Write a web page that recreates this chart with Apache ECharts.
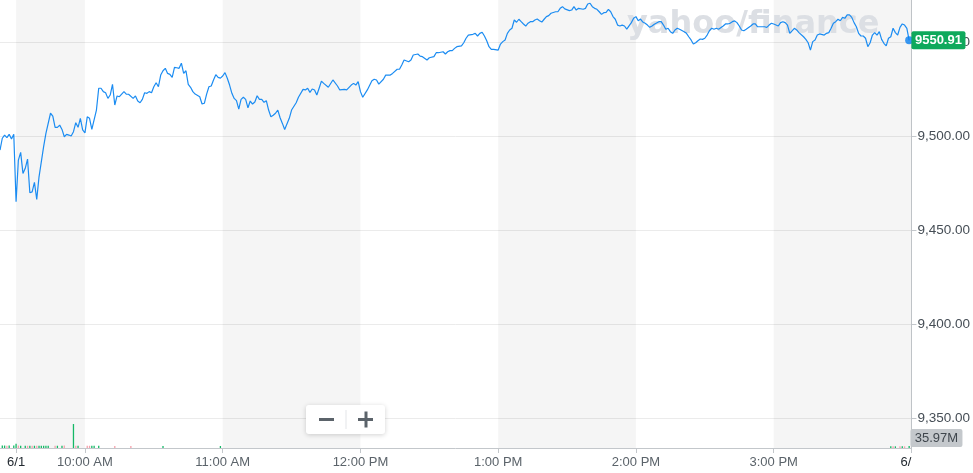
<!DOCTYPE html>
<html><head><meta charset="utf-8">
<script src="https://cdn.jsdelivr.net/npm/echarts@6/dist/echarts.min.js"></script>
<style>html,body{margin:0;padding:0;background:#fff}#c{width:973px;height:473px}</style>
</head><body><div id="c"></div>
<script>
// minutes since midnight (9:30 = 570, 16:00 = 960)
const priceMinutes = [563,564,565,566,567,568,569,570,571,572,573,574,575,576,577,578,579,580,582,583,585,586,587,588,589,590,591,592,593,594,595,596,597,598,599,600,601,602,603,605,606,607,608,609,610,611,612,613,614,615,616,617,618,619,621,622,623,624,625,626,627,628,629,630,631,632,633,634,635,636,637,638,639,640,641,642,643,644,645,646,647,648,650,651,652,653,654,655,656,657,658,659,660,661,662,663,664,665,666,667,668,669,670,671,672,673,674,675,676,677,678,679,680,681,682,683,684,685,686,687,689,690,692,693,695,696,697,698,699,700,701,702,703,704,706,708,710,711,713,714,716,717,718,719,720,721,723,725,726,727,728,730,731,733,734,736,737,738,739,741,742,743,745,746,747,749,750,752,753,754,756,757,758,759,760,761,762,764,765,766,767,769,770,771,772,773,774,775,776,777,778,780,781,782,783,784,785,786,787,788,789,790,791,792,793,794,795,796,797,798,799,800,801,802,803,805,806,807,808,809,811,812,813,814,815,817,818,819,820,821,822,823,824,825,826,827,828,829,830,831,832,833,834,835,836,838,839,840,841,842,843,844,845,846,847,848,850,851,852,853,854,855,856,857,858,859,861,862,863,864,865,866,867,868,869,870,871,872,873,874,875,876,878,879,880,881,882,883,884,885,886,887,888,890,891,892,893,894,896,897,898,899,900,902,903,904,905,906,907,908,909,910,911,913,914,915,916,917,918,919,920,922,923,924,925,926,927,928,929,930,931,932,933,934,935,936,937,938,939,940,941,942,943,944,945,946,947,948,949,950,951,952,953,954,955,956,957,958,959];
const priceValues = [9492.5,9498.8,9500.5,9499.1,9500.9,9498.4,9500.9,9465.0,9487.2,9491.3,9480.1,9482.8,9487.7,9469.8,9470.3,9475.3,9466.3,9478.3,9494.3,9501.4,9512.1,9510.6,9504.6,9504.6,9505.8,9503.5,9499.6,9500.9,9500.5,9500.0,9502.3,9507.1,9504.6,9509.4,9503.2,9501.7,9510.2,9509.4,9503.5,9513.8,9525.4,9525.4,9523.6,9523.0,9520.0,9521.8,9527.5,9516.5,9521.3,9520.9,9522.3,9523.6,9522.3,9522.2,9520.0,9521.3,9518.6,9517.7,9519.5,9523.0,9522.7,9523.6,9523.0,9526.2,9528.3,9526.2,9532.4,9534.7,9536.0,9533.3,9532.8,9531.2,9536.5,9536.3,9536.0,9538.7,9533.3,9534.7,9527.5,9525.9,9523.6,9522.3,9520.9,9517.0,9517.4,9522.3,9526.2,9526.6,9529.8,9532.6,9531.2,9530.8,9531.9,9533.7,9530.7,9527.1,9522.7,9520.0,9518.8,9514.3,9519.5,9520.6,9519.5,9515.0,9518.6,9517.0,9518.1,9521.4,9519.5,9519.5,9517.9,9518.8,9513.8,9510.2,9511.0,9512.1,9513.8,9509.7,9506.7,9503.5,9509.4,9513.8,9517.7,9520.6,9524.8,9524.5,9525.4,9523.2,9525.0,9524.5,9521.8,9525.4,9529.2,9528.0,9525.9,9529.8,9526.6,9524.5,9524.8,9524.5,9527.1,9528.0,9527.1,9528.9,9523.6,9520.6,9524.5,9529.4,9530.2,9529.8,9527.6,9530.2,9532.4,9532.4,9533.3,9535.5,9535.5,9537.8,9540.4,9539.5,9540.4,9543.1,9543.6,9542.5,9542.2,9540.4,9541.6,9542.2,9544.3,9544.3,9544.8,9543.6,9544.8,9545.4,9545.4,9546.6,9547.5,9547.9,9549.6,9552.0,9553.7,9554.1,9554.6,9553.2,9554.6,9555.2,9553.2,9550.7,9547.5,9546.1,9546.1,9545.7,9548.9,9550.2,9551.1,9554.6,9556.4,9557.3,9561.7,9560.5,9562.1,9560.8,9559.6,9558.5,9560.0,9560.8,9560.8,9561.7,9562.2,9561.3,9560.6,9562.1,9563.5,9564.0,9565.3,9566.1,9566.1,9567.9,9568.8,9567.6,9566.7,9567.0,9568.8,9567.0,9567.9,9567.4,9567.9,9570.2,9570.6,9568.8,9567.9,9567.4,9566.1,9564.7,9565.6,9565.8,9567.4,9566.1,9563.5,9562.1,9559.0,9558.5,9559.0,9558.5,9556.8,9560.3,9562.6,9563.5,9561.3,9562.2,9560.6,9560.0,9559.0,9557.8,9558.5,9559.4,9560.8,9560.8,9559.0,9556.8,9557.3,9555.5,9554.6,9556.4,9557.3,9556.8,9555.5,9554.6,9552.8,9551.1,9548.9,9549.6,9550.7,9551.6,9551.4,9552.0,9553.7,9556.0,9557.3,9556.8,9557.3,9556.8,9558.5,9559.6,9559.6,9560.0,9560.8,9561.2,9560.3,9558.5,9556.4,9556.0,9556.8,9558.5,9559.6,9559.6,9558.1,9558.1,9558.1,9557.8,9559.0,9560.0,9559.6,9558.5,9560.3,9560.8,9560.3,9559.0,9554.6,9555.9,9557.3,9556.4,9555.0,9552.8,9551.4,9549.6,9545.7,9550.2,9551.1,9553.7,9554.3,9553.7,9554.6,9555.0,9557.3,9560.0,9560.8,9562.1,9561.3,9563.1,9562.6,9564.4,9564.4,9563.1,9560.3,9558.1,9554.6,9553.2,9553.2,9552.0,9547.5,9549.6,9553.7,9555.0,9553.7,9555.5,9551.4,9549.3,9547.9,9552.0,9552.8,9557.3,9555.0,9553.7,9557.8,9559.6,9559.0,9557.3,9550.91];

const volMinutes = [564,565,566,567,569,570,571,572,574,575,576,577,578,579,580,581,582,583,584,587,588,590,591,595,596,597,601,602,603,604,606,613,620,634,659,951,952,953,955,956,957,959];
const volValues  = [0.22,0.22,0.2,0.22,0.22,0.38,0.22,0.2,0.2,0.2,0.2,0.2,0.2,0.2,0.2,0.2,0.2,0.2,0.2,0.2,0.2,0.2,0.22,2.14,0.2,0.2,0.2,0.2,0.2,0.2,0.2,0.18,0.18,0.18,0.18,0.15,0.15,0.15,0.15,0.15,0.15,0.18];
const volUp      = [1,1,0,1,1,1,0,1,1,0,1,0,1,0,1,1,1,1,1,0,1,1,0,1,0,1,0,0,1,1,1,0,0,1,1,1,0,1,0,1,0,1];

const xTickValues = [570,600,660,720,780,840,900,960];
const xTickLabels = ['6/1','10:00 AM','11:00 AM','12:00 PM','1:00 PM','2:00 PM','3:00 PM','6/'];
const yTickValues = [9350,9400,9450,9500,9550];
const bandRanges = [[570,600],[660,720],[780,840],[900,960]];
const totalVolumeLabel = '35.97M';
const watermarkText = 'yahoo/finance';

const FONT = '"Liberation Sans", Arial, Helvetica, sans-serif';
const chart = echarts.init(document.getElementById('c'), null, {renderer: 'canvas'});

const lastIdx = priceValues.length - 1;
const axisGray = '#c3c7cb';

chart.setOption({
  animation: false,
  backgroundColor: '#fff',
  grid: {left: 0, right: 61, top: 0, bottom: 25, containLabel: false},
  xAxis: {
    type: 'value', min: 563, max: 960,
    axisLine: {show: true, lineStyle: {color: axisGray, width: 1}},
    axisTick: {show: true, customValues: xTickValues, length: 5, lineStyle: {color: axisGray}},
    axisLabel: {
      customValues: xTickValues, margin: 8, fontSize: 13, color: '#5b636a', fontFamily: FONT,
      formatter: function (v) {
        const i = xTickValues.indexOf(v);
        const t = xTickLabels[i];
        if (i === 0) return '{d|' + t + '}';
        if (i === xTickValues.length - 1) return '{e|' + t + '}';
        return t;
      },
      rich: {
        d: {color: '#232a31', fontSize: 13, fontFamily: FONT},
        e: {color: '#232a31', fontSize: 13, fontFamily: FONT, padding: [0, 11, 0, 0]}
      }
    },
    splitLine: {show: false}
  },
  yAxis: [{
    type: 'value', position: 'right', min: 9334.04, max: 9572.34,
    axisLine: {show: true, lineStyle: {color: axisGray, width: 1}},
    axisTick: {show: true, customValues: yTickValues, length: 5, lineStyle: {color: axisGray}},
    axisLabel: {
      customValues: yTickValues, margin: 6, fontSize: 13.5, color: '#464e56', fontFamily: FONT,
      formatter: v => v.toLocaleString('en-US', {minimumFractionDigits: 2, maximumFractionDigits: 2})
    },
    splitLine: {show: true, lineStyle: {color: '#ebebeb', width: 1}}
  }, {
    type: 'value', min: 0, max: 40, show: false, splitLine: {show: false}
  }],
  series: [{
    type: 'line', data: [], z: 1, silent: true,
    markArea: {
      silent: true,
      itemStyle: {color: 'rgba(0,0,0,0.04)'},
      data: bandRanges.map(r => [{xAxis: r[0]}, {xAxis: r[1]}])
    }
  }, {
    type: 'bar', xAxisIndex: 0, yAxisIndex: 1, barWidth: 1.3, z: 4, silent: true,
    data: volMinutes.map((m, i) => ({
      value: [m, volValues[i]],
      itemStyle: {color: volUp[i] ? '#14b866' : '#f5a0ab', borderWidth: 0}
    }))
  }, {
    type: 'line', z: 5, showSymbol: false, silent: true,
    lineStyle: {color: '#1b8cf2', width: 1.2},
    data: priceMinutes.map((m, i) => [m, priceValues[i]])
  }, {
    type: 'scatter', z: 6, symbolSize: 8, silent: true,
    itemStyle: {color: '#0a7ff0'},
    data: [[priceMinutes[lastIdx], priceValues[lastIdx]]]
  }]
});

const pLast = chart.convertToPixel({xAxisIndex: 0, yAxisIndex: 0}, [priceMinutes[lastIdx], priceValues[lastIdx]]);
const pEnd = chart.convertToPixel({xAxisIndex: 0, yAxisIndex: 0}, [960, 9334.04]);

chart.setOption({
  graphic: [
    {
      type: 'text', z: 2, silent: true, left: 627, top: 9,
      style: {text: watermarkText, font: 'bold 32px "DejaVu Sans", sans-serif', fill: '#dcdfe4'}
    },
    {
      type: 'group', zlevel: 1, left: 306, top: 405,
      children: [
        {type: 'rect', zlevel: 1, shape: {x: 0, y: 0, width: 79, height: 29, r: 3},
         style: {fill: '#fff', shadowBlur: 5, shadowColor: 'rgba(0,0,0,0.18)', shadowOffsetY: 1}},
        {type: 'line', zlevel: 1, shape: {x1: 40, y1: 5, x2: 40, y2: 24}, style: {stroke: '#e3e5e8', lineWidth: 1}},
        {type: 'rect', zlevel: 1, shape: {x: 13, y: 13, width: 15, height: 3}, style: {fill: '#5b636a'}},
        {type: 'rect', zlevel: 1, shape: {x: 52, y: 13, width: 15, height: 3}, style: {fill: '#5b636a'}},
        {type: 'rect', zlevel: 1, shape: {x: 58.5, y: 6.5, width: 3, height: 16}, style: {fill: '#5b636a'}}
      ]
    },
    {
      type: 'group', zlevel: 1, x: pEnd[0], y: pLast[1],
      children: [
        {type: 'rect', zlevel: 1, shape: {x: 0, y: -9, width: 54, height: 18, r: 2}, style: {fill: '#0fa95c'}},
        {type: 'text', zlevel: 1, x: 27, y: 0, style: {text: priceValues[lastIdx].toFixed(2), fill: '#fff',
          font: 'bold 13px ' + FONT, align: 'center', verticalAlign: 'middle'}}
      ]
    },
    {
      type: 'group', zlevel: 1, x: pEnd[0], y: pEnd[1],
      children: [
        {type: 'rect', zlevel: 1, shape: {x: -1, y: -19, width: 52, height: 18, r: 2}, style: {fill: '#c4c8cc'}},
        {type: 'text', zlevel: 1, x: 25, y: -10, style: {text: totalVolumeLabel, fill: '#3f464d',
          font: '13px ' + FONT, align: 'center', verticalAlign: 'middle'}}
      ]
    }
  ]
});
</script>
</body></html>
